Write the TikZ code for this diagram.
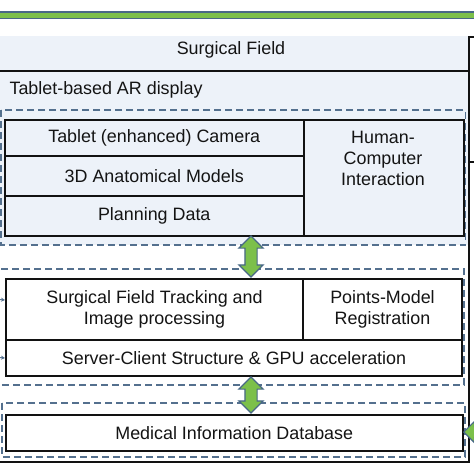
\documentclass[tikz,border=0pt]{standalone}
\usepackage{fontspec}
\setmainfont{Liberation Sans}
\usetikzlibrary{shapes.arrows,arrows.meta}
\definecolor{paleblue}{RGB}{237,242,249}
\definecolor{dashblue}{RGB}{84,112,142}
\definecolor{arrgreen}{RGB}{124,192,74}
\definecolor{arredge}{RGB}{72,104,134}
\definecolor{linek}{RGB}{18,18,18}
\begin{document}
\begin{tikzpicture}[x=1pt,y=-1pt,
  every node/.style={font=\fontsize{17.9}{21}\selectfont, text=black!92},
  cell/.style={draw=linek, line width=2pt, rectangle, inner sep=0pt, anchor=north west, align=center},
  grp/.style={draw=dashblue, line width=1.4pt, dash pattern=on 7pt off 4pt},
  frame/.style={draw=linek, line width=2pt},
  dblarr/.style={double arrow, draw=arredge, fill=arrgreen, line width=1.2pt, inner xsep=0pt, inner ysep=5.5pt, double arrow head extend=6pt, double arrow tip angle=90, rotate=90},
  sglarr/.style={single arrow, draw=arredge, fill=arrgreen, line width=1.2pt, inner xsep=0pt, inner ysep=5pt, single arrow head extend=5pt, single arrow tip angle=90, shape border rotate=180, minimum height=30pt},
  smallarr/.style={draw=dashblue, line width=1pt, -{Stealth[length=4pt,width=4pt]}}
]
\useasboundingbox (0,0) rectangle (474,474);
\fill[white] (0,0) rectangle (474,474);
% background fill of surgical field / AR display
\fill[paleblue] (0,36) rectangle (469,245);
% top green bar
\fill[arrgreen] (-5,12) rectangle (480,18.5);
\draw[arredge, line width=1.3pt] (-5,12) -- (480,12);
\draw[arredge, line width=1.3pt] (-5,18.5) -- (480,18.5);

% titles
\node (sf) at (231,50) {Surgical Field};
\node[anchor=west] (ar) at (6,90) {Tablet-based AR display};

% dashed groups
\draw[grp] (1,110) rectangle (465.5,245);
\draw[grp] (-3,269) rectangle (464,385);
\draw[grp] (2,403) rectangle (465,457);

% group 1 cells
\node[cell, fill=paleblue, minimum width=299.5pt, minimum height=36pt] (cam) at (3.5,119) {Tablet (enhanced) Camera};
\node[cell, fill=paleblue, minimum width=299.5pt, minimum height=40pt] (ana) at (3.5,155) {3D Anatomical Models};
\node[cell, fill=paleblue, minimum width=299.5pt, minimum height=40pt] (plan) at (3.5,195) {Planning Data};
\node[cell, fill=paleblue, minimum width=160pt, minimum height=116pt] (hci) at (303,119) {};
\node[align=center] (hcitxt) at (383,158) {Human-\\Computer\\Interaction};

% group 2 cells
\node[cell, fill=white, minimum width=297pt, minimum height=61pt] (track) at (5,278) {Surgical Field Tracking and\\Image processing};
\node[cell, fill=white, minimum width=159pt, minimum height=61pt] (reg) at (302,278) {Points-Model\\Registration};
\node[cell, fill=white, minimum width=456pt, minimum height=36pt] (srv) at (5,339) {Server-Client Structure \& GPU acceleration};

% group 3
\node[cell, fill=white, minimum width=456.5pt, minimum height=36pt] (db) at (5,414) {Medical Information Database};

% black frame lines
\draw[frame] (0,71) -- (469,71);
\draw[frame] (476,37) -- (469,37) -- (469,462) -- (-2,462);
\draw[frame] (469,162) -- (476,162);

% green arrows
\node[dblarr, minimum height=41pt] (a1) at (251,256.5) {};
\node[dblarr, minimum height=36pt] (a2) at (251,395) {};
\node[sglarr, anchor=tip] (a3) at (463,432) {};

% small incoming arrows on the left
\coordinate (in1) at (-8,299);
\coordinate (in2) at (-8,357);
\draw[smallarr] (in1) -- ([yshift=9.5pt]track.west);
\draw[smallarr] (in2) -- (srv.west);
\end{tikzpicture}
\end{document}
